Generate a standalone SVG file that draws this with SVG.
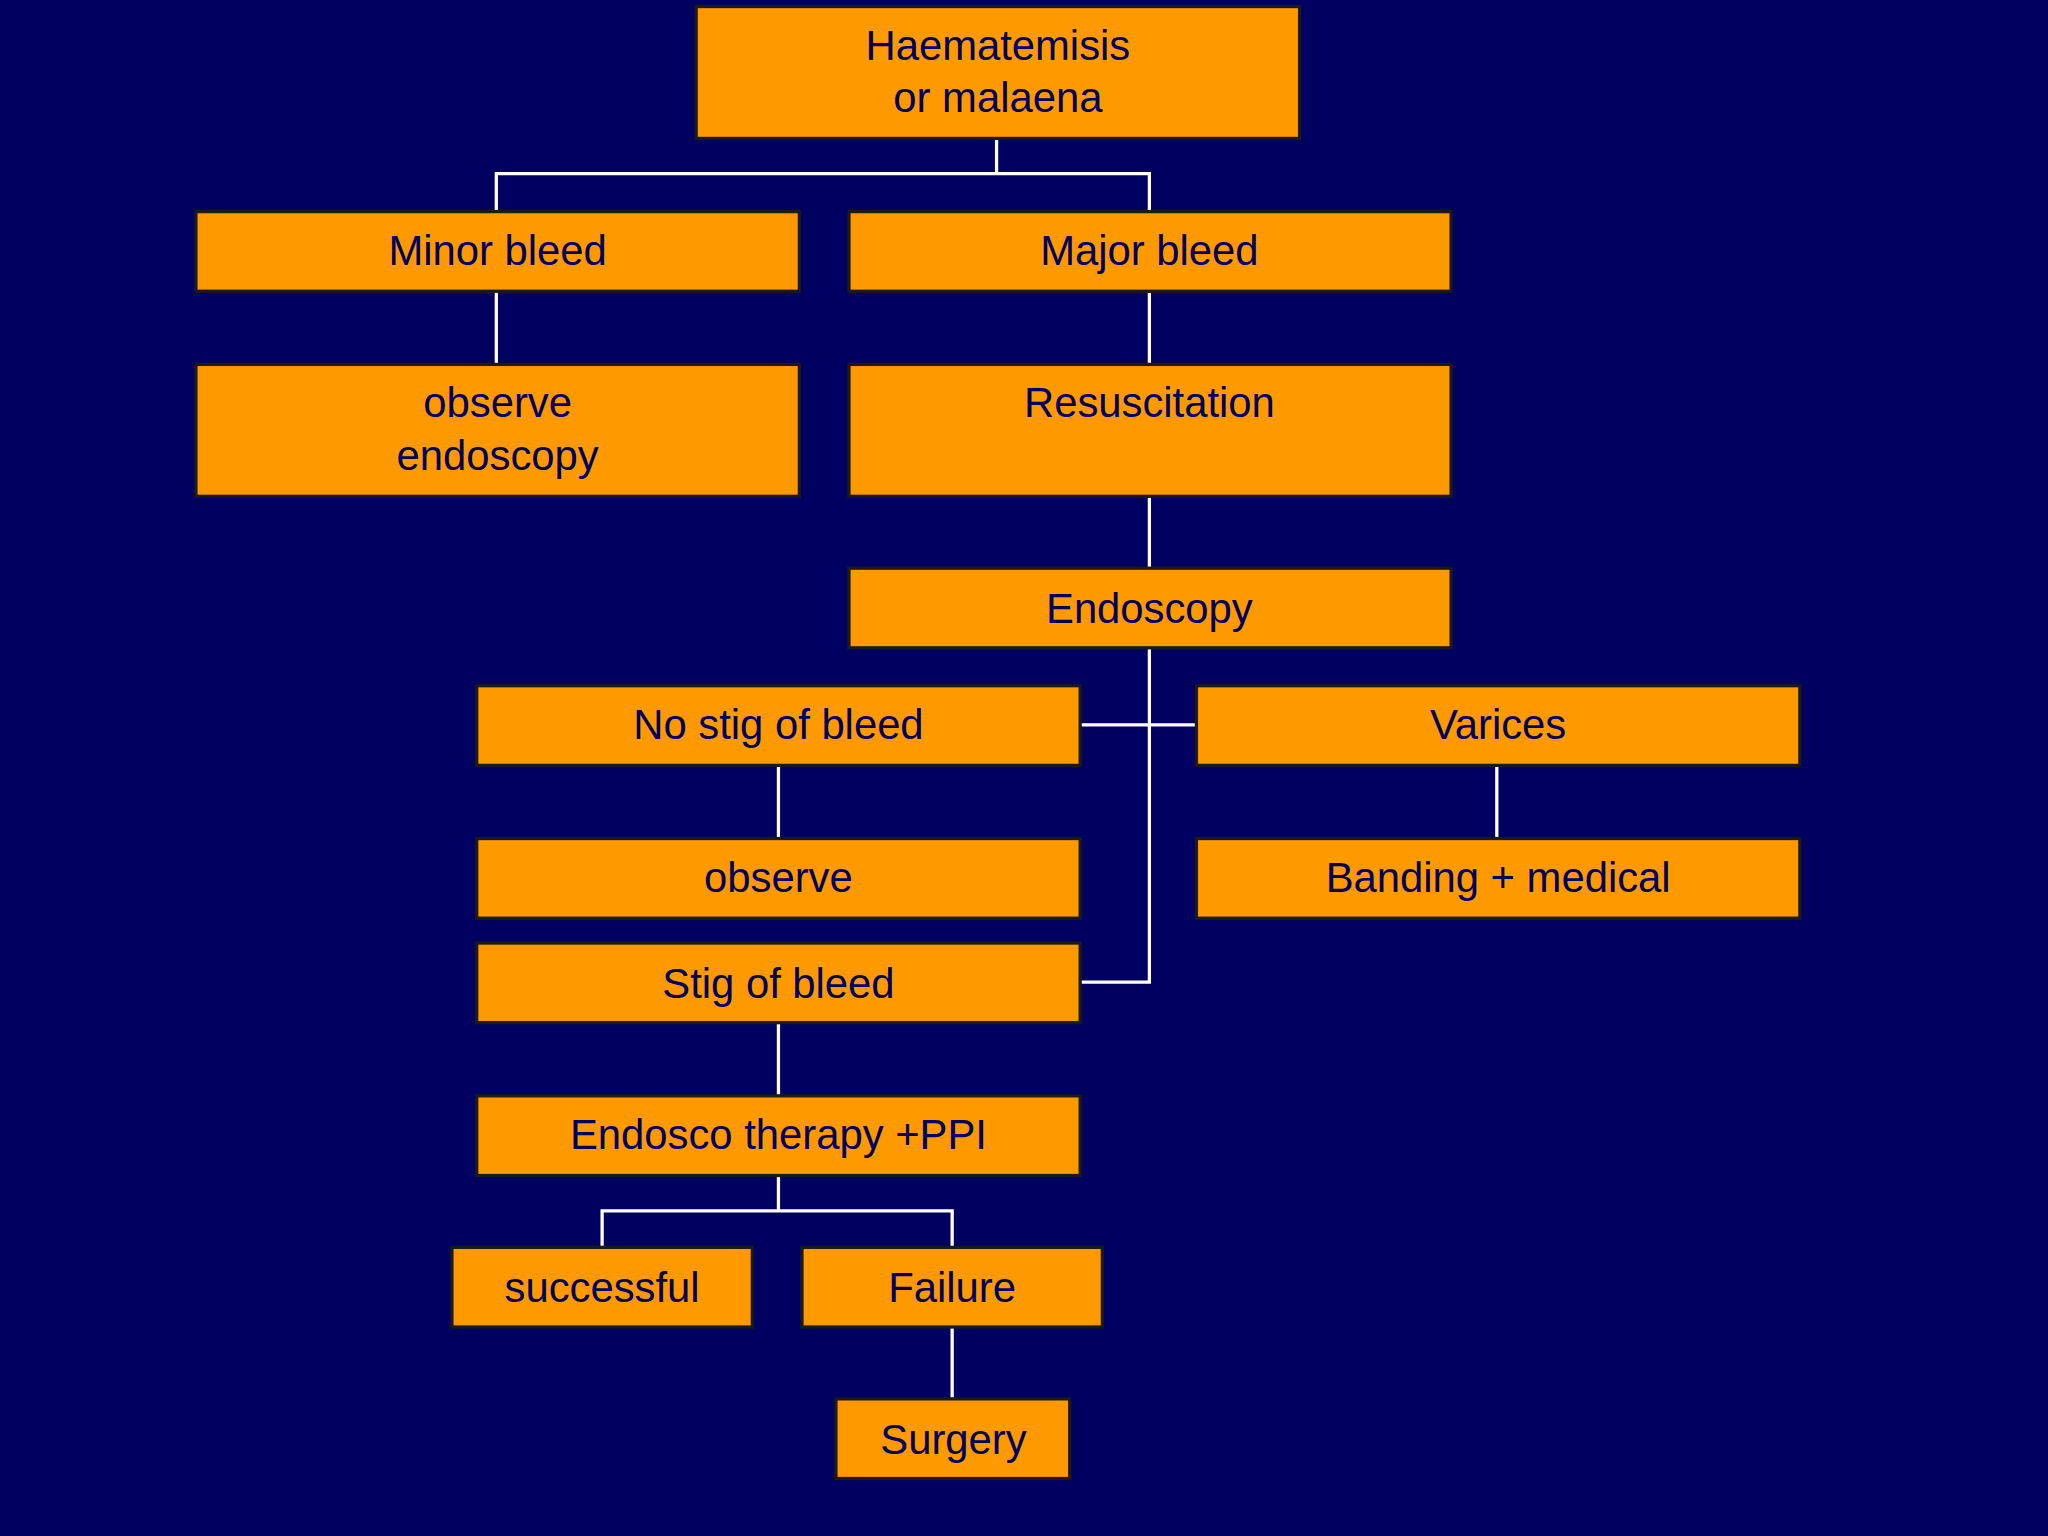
<svg xmlns="http://www.w3.org/2000/svg" width="2048" height="1536" viewBox="0 0 2048 1536">
<style>
.b{fill:#FF9900;stroke:#1a1a1a;stroke-width:2.5}
.t{font-family:"Liberation Sans",Arial,sans-serif;font-size:32px;fill:#000060;text-anchor:middle}
.c{stroke:#fff;stroke-width:2.5;fill:none}
</style>
<rect width="2048" height="1536" fill="#000060"/>
<g transform="scale(1.30612)">
<g id="connectors" class="c">
<path d="M763,106V133M380,162V133H880V162M380,223V279M880,223V279M880,380V435M880,496V752H827M827,555H916M1146,586V642M596,586V642M596,783V839M596,900V927M461,955V927H729V955M729,1016V1071"/>
</g>
<g id="n1"><rect class="b" x="533" y="5" width="462" height="101"/><text class="t" x="764" y="46">Haematemisis</text><text class="t" x="764" y="86">or malaena</text></g>
<g id="n2"><rect class="b" x="150" y="162" width="462" height="61"/><text class="t" x="381" y="203">Minor bleed</text></g>
<g id="n3"><rect class="b" x="650" y="162" width="461" height="61"/><text class="t" x="880" y="203">Major bleed</text></g>
<g id="n4"><rect class="b" x="150" y="279" width="462" height="101"/><text class="t" x="381" y="319">observe</text><text class="t" x="381" y="360">endoscopy</text></g>
<g id="n5"><rect class="b" x="650" y="279" width="461" height="101"/><text class="t" x="880" y="319">Resuscitation</text></g>
<g id="n6"><rect class="b" x="650" y="435" width="461" height="61"/><text class="t" x="880" y="477">Endoscopy</text></g>
<g id="n7"><rect class="b" x="365" y="525" width="462" height="61"/><text class="t" x="596" y="566">No stig of bleed</text></g>
<g id="n8"><rect class="b" x="916" y="525" width="462" height="61"/><text class="t" x="1147" y="566">Varices</text></g>
<g id="n9"><rect class="b" x="365" y="642" width="462" height="61"/><text class="t" x="596" y="683">observe</text></g>
<g id="n10"><rect class="b" x="916" y="642" width="462" height="61"/><text class="t" x="1147" y="683">Banding + medical</text></g>
<g id="n11"><rect class="b" x="365" y="722" width="462" height="61"/><text class="t" x="596" y="764">Stig of bleed</text></g>
<g id="n12"><rect class="b" x="365" y="839" width="462" height="61"/><text class="t" x="596" y="880">Endosco therapy +PPI</text></g>
<g id="n13"><rect class="b" x="346" y="955" width="230" height="61"/><text class="t" x="461" y="997">successful</text></g>
<g id="n14"><rect class="b" x="614" y="955" width="230" height="61"/><text class="t" x="729" y="997">Failure</text></g>
<g id="n15"><rect class="b" x="640" y="1071" width="179" height="61"/><text class="t" x="730" y="1113">Surgery</text></g>
</g>
</svg>
